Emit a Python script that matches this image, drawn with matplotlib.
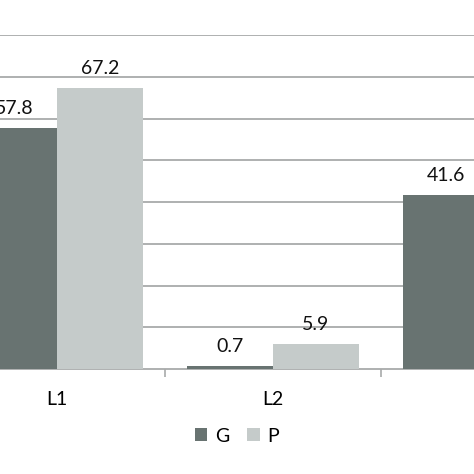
import numpy as np
import matplotlib
matplotlib.use("Agg")
import matplotlib.pyplot as plt

# Datos
categorias = ["L1", "L2", "L3"]
valores_g = [57.8, 0.7, 41.6]
valores_p = [67.2, 5.9, 45.0]
series = ["G", "P"]

color_g = "#687371"
color_p = "#c5cbca"
color_grid = "#a8aaaa"

plt.rcParams['font.family'] = ['Lato', 'DejaVu Sans']

fig = plt.figure(figsize=(4.74, 4.74), dpi=100)
# ejes: base en y=369 px, linea de 80 en y=35 px
ax = fig.add_axes([0, (474 - 369) / 474, 1, (369 - 35) / 474])

x = np.arange(len(categorias))
ancho = 0.398
b1 = ax.bar(x - ancho / 2, valores_g, ancho, color=color_g, label=series[0], zorder=3)
b2 = ax.bar(x + ancho / 2, valores_p, ancho, color=color_p, label=series[1], zorder=3)

for barras in (b1, b2):
    for b in barras:
        ax.annotate(f"{b.get_height():.1f}", (b.get_x() + b.get_width() / 2, b.get_height()),
                    xytext=(0, 8), textcoords="offset points", ha="center", va="bottom",
                    fontsize=14, color="#111111", zorder=4, annotation_clip=False)

ax.set_yticks(np.arange(10, 81, 10))
ax.yaxis.grid(True, color=color_grid, linewidth=1.3)
ax.set_axisbelow(True)
ax.tick_params(axis="y", left=False, labelleft=False)

for s in ["top", "right", "left"]:
    ax.spines[s].set_visible(False)
ax.spines["bottom"].set_color(color_grid)
ax.spines["bottom"].set_linewidth(1.3)

# marcas entre categorias y etiquetas centradas
ax.set_xticks(x[:-1] + 0.5)
ax.set_xticklabels([])
ax.tick_params(axis="x", length=6, width=1.2, color=color_grid, direction="out")
ax.set_xticks(x, minor=True)
ax.set_xticklabels(categorias, minor=True, fontsize=14)
ax.tick_params(axis="x", which="minor", length=0, pad=16)

# limites al final (set_xticks puede ampliarlos)
ax.set_xlim(-0.264, 1.931)
ax.set_ylim(0, 80)

fig.legend(handles=[b1, b2], labels=series, loc="center", bbox_to_anchor=(237 / 474, 1 - 436 / 474),
           ncol=2, frameon=False, fontsize=14, handlelength=0.65, handleheight=0.65,
           handletextpad=0.4, columnspacing=0.9)

fig.savefig("out.png", dpi=100)
